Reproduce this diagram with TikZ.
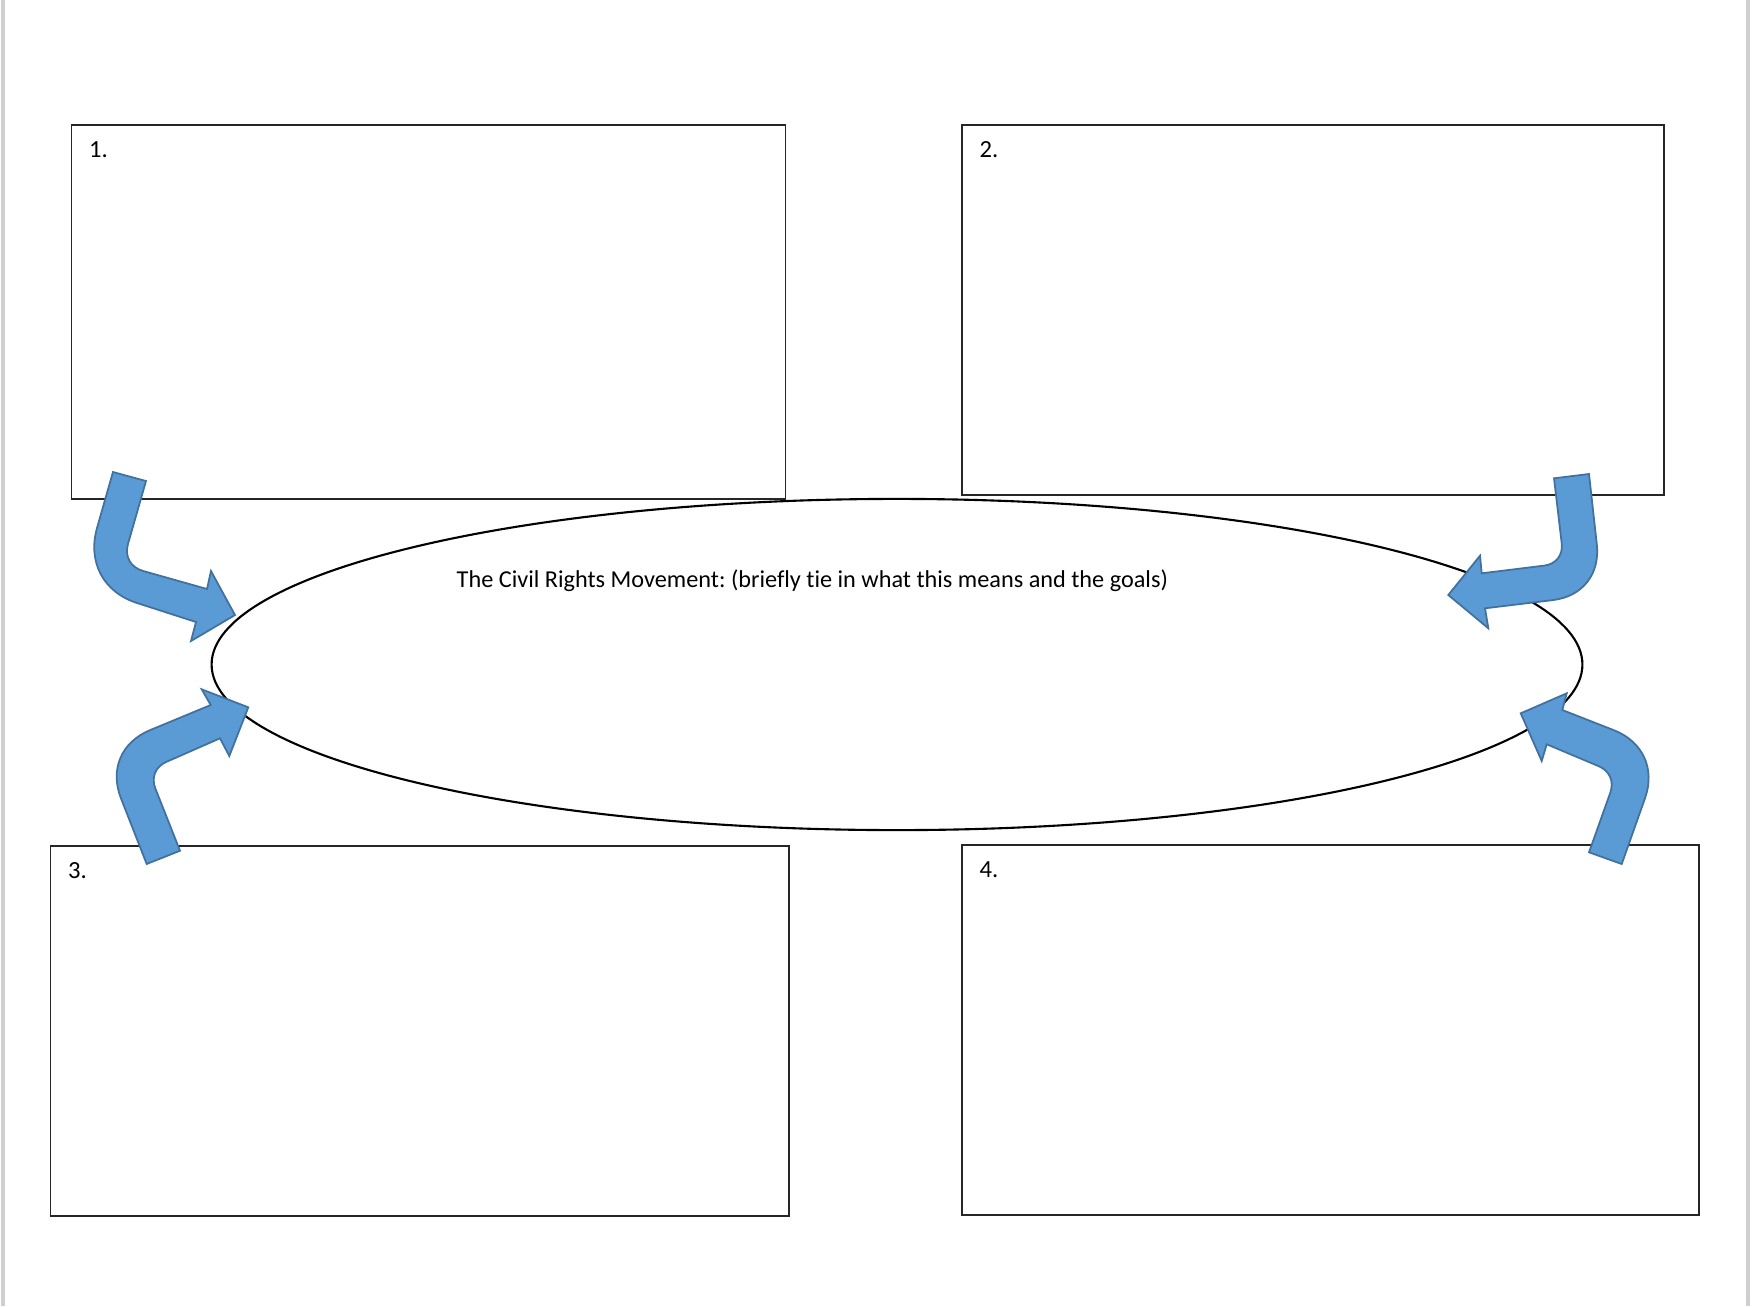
\documentclass[tikz,border=0pt]{standalone}
\usepackage{fontspec}
\setmainfont{Carlito}[Ligatures=NoCommon]
\usepackage{tikz}
\usetikzlibrary{positioning}
\usepackage{xcolor}
\definecolor{arrowfill}{HTML}{5B9BD5}
\definecolor{arrowedge}{HTML}{41719C}
\definecolor{pageedge}{HTML}{CDCFD2}
\frenchspacing

\tikzset{
  boxline/.style={draw=black!85,line width=0.5pt},
  bentarrow/.style={fill=arrowfill,draw=arrowedge,line width=0.5pt,line join=miter},
  numlabel/.style={anchor=base west,inner sep=0pt,font=\fontsize{7pt}{9pt}\selectfont}
}

\begin{document}
\begin{tikzpicture}[x=0.01cm,y=-0.01cm]
    \useasboundingbox (0,0) rectangle (1752,1306);
    \fill[white] (0,0) rectangle (1752,1306);
    % page edges
    \draw[pageedge,line width=1.2pt] (3,0) -- (3,1306);
    \draw[pageedge,line width=1pt] (1748,0) -- (1748,1306);

    % Box 1
    \draw[boxline] (71.5,125) rectangle (785.5,499);
    \node[numlabel] (lbl1) at (88.5,157) {1.};

    % Box 2
    \draw[boxline] (962,125) rectangle (1664,495);
    \draw[boxline,line width=0.8pt] (1033,125) -- (1664,125) -- (1664,495) -- (962,495);
    \node[numlabel] (lbl2) at (979,157) {2.};

    % Box 3
    \draw[boxline] (50.5,846) rectangle (789,1216);
    \node[numlabel] (lbl3) at (67.5,878) {3.};

    % Box 4
    \draw[boxline] (962,845) rectangle (1699,1215);
    \draw[boxline,line width=0.8pt] (1699,845) -- (1699,1215);
    \node[numlabel] (lbl4) at (979,877) {4.};

    % Centre ellipse
    \draw[black,line width=0.6pt] (897,664.5) ellipse [x radius=6.85cm,y radius=1.655cm];
    \node[numlabel,font=\fontsize{6.9pt}{9pt}\selectfont] (title) at (456,587) {The Civil Rights Movement: (briefly tie in what this means and the goals)};

    % Arrow 1 -> ellipse
    \draw[bentarrow] (113,472) -- (97,528) .. controls (87.4,562.2) and (103.4,592.2) .. (137,603) -- (196,622) -- (191,641) -- (235,615) -- (211,571) -- (207,589) -- (143.2,571) .. controls (130.5,567.4) and (124.4,556.6) .. (128,543.9) -- (146,481) -- cycle;

    % Arrow 2 -> ellipse
    \draw[bentarrow] (1589,474) -- (1596.8,544.4) .. controls (1600.1,574.2) and (1582.5,596.5) .. (1552.7,600.1) -- (1485,608.3) -- (1488.3,628.3) -- (1448.3,595) -- (1480,555.7) -- (1481.7,573.3) -- (1544.1,565.6) .. controls (1556,564.2) and (1563.1,555.2) .. (1561.7,543.3) -- (1554,478.3) -- cycle;

    % Arrow 3 -> ellipse
    \draw[bentarrow] (146.7,864) -- (121,798.4) .. controls (109.6,769.4) and (121.2,742.1) .. (150.1,730.1) -- (210.7,705) -- (201.7,689.3) -- (248.3,707.3) -- (229.3,756) -- (220,738.3) -- (166.3,761.9) .. controls (155.3,766.8) and (151,777.4) .. (155.4,788.6) -- (180,850.7) -- cycle;

    % Arrow 4 -> ellipse
    \draw[bentarrow] (1621.7,864) -- (1645,798.2) .. controls (1655.4,768.8) and (1642.9,741.6) .. (1613.9,730.2) -- (1562.3,710) -- (1566.7,693.3) -- (1520.7,713.3) -- (1541.7,761) -- (1546.7,744.3) -- (1598.5,766.1) .. controls (1609.6,770.7) and (1614.3,781.3) .. (1610.3,792.6) -- (1589,852.3) -- cycle;
\end{tikzpicture}
\end{document}
